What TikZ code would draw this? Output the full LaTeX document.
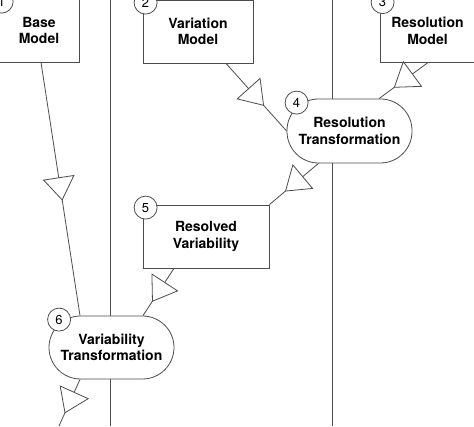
\documentclass[tikz,border=0pt]{standalone}
\usepackage{fontspec}
\setmainfont{TeX Gyre Heros}
\usetikzlibrary{arrows.meta,decorations.markings}

\tikzset{
  lane/.style={draw=black!70, line width=0.8pt},
  modelbox/.style={rectangle, draw=black!70, line width=0.8pt, fill=white,
    minimum height=63pt, inner sep=0pt, align=center,
    font=\fontsize{14}{16.5}\selectfont\bfseries},
  transbox/.style={modelbox, rounded corners=31.5pt, minimum width=125pt},
  stepnum/.style={circle, draw=black!70, line width=0.8pt, fill=white,
    minimum size=23pt, inner sep=0pt, font=\fontsize{13}{13}\selectfont},
  flow/.style={draw=black!70, line width=0.8pt, postaction={decorate},
    decoration={markings, mark=at position 0.5 with
      {\arrow[xshift=11.75pt]{Triangle[length=23.5pt,width=32pt,fill=white]}}}}
}

\begin{document}
\begin{tikzpicture}[x=1pt,y=1pt]
\useasboundingbox (0,0) rectangle (474,426);
\clip (0,0) rectangle (474,426);
% Drawing lanes
\draw[lane] (110,0) -- (110,426);
\draw[lane] (332,0) -- (332,426);
% Models
\node[modelbox, minimum width=80pt] (base) at (39,395.5) {Base\\Model};
\node[modelbox, minimum width=110pt] (var) at (198,394.5) {Variation\\Model};
\node[modelbox, minimum width=95pt] (resm) at (427.5,395) {Resolution\\Model};
% Transformations and result
\node[transbox, minimum height=64pt] (rt) at (349.5,295) {Resolution\\Transformation};
\node[modelbox, minimum width=126pt] (rv) at (206,189.5) {Resolved\\Variability};
\node[transbox] (vt) at (111.5,78.5) {Variability\\Transformation};
% Step numbers
\node[stepnum] (n1) at ([shift={(3,-3)}]base.north west) {1};
\node[stepnum] (n2) at ([shift={(3,-3)}]var.north west) {2};
\node[stepnum] (n3) at ([shift={(3,-3)}]resm.north west) {3};
\node[stepnum] (n4) at ([shift={(10,-4)}]rt.north west) {4};
\node[stepnum] (n5) at ([shift={(3,-3)}]rv.north west) {5};
\node[stepnum] (n6) at ([shift={(10.5,-4)}]vt.north west) {6};
% Flows
\draw[flow] ([xshift=2pt]base.south) -- ([xshift=-31.5pt]vt.north);
\draw[flow] ([xshift=28pt]var.south) -- (rt.west);
\draw[flow] (resm.south) -- ([xshift=29.5pt]rt.north);
\draw[flow] ([xshift=-31pt]rt.south) -- (rv.north east);
\draw[flow] ([xshift=-32pt]rv.south) -- ([xshift=31.5pt]vt.north);
\coordinate (out) at (59,0);
\draw[flow] ([xshift=-31.5pt]vt.south) -- (out);
\end{tikzpicture}
\end{document}
